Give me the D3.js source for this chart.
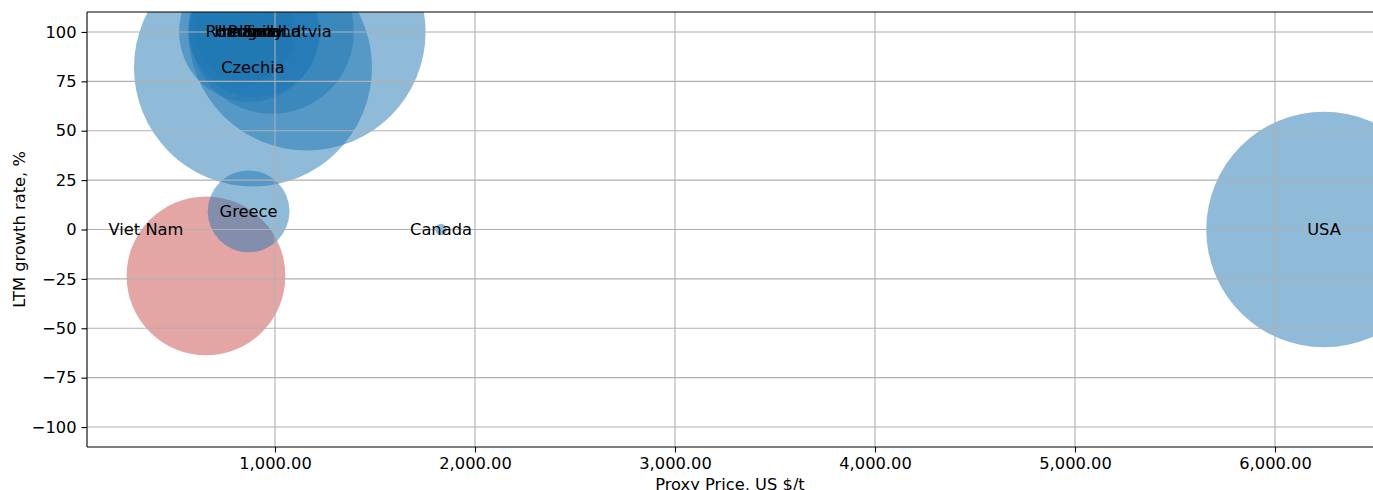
<!DOCTYPE html>
<html lang="en">
<head>
  <meta charset="UTF-8" />
  <title>Proxy price vs LTM growth</title>
  <style>
    body { margin: 0; background: white; }
    svg { display: block; font-family: "DejaVu Sans", sans-serif; }
  </style>
</head>
<body>
  <svg id="chart" width="1373" height="490"></svg>

  <script src="https://d3js.org/d3.v7.min.js"></script>
  <script>
    // data
    const countries = ["Czechia", "Latvia", "Finland", "Hungary", "Poland", "Romania", "Ireland", "Greece", "Viet Nam", "Canada", "USA"];
    const prices    = [890, 1160, 985, 870, 900, 830, 855, 868, 655, 1830, 6245];   // US $/t
    const growth    = [82, 100, 100, 100, 100, 100, 100, 9.2, -23.5, 0, 0];          // %
    const volumes   = [1420, 1410, 672, 490, 423, 281, 250, 168, 632, 3.2, 1390];    // bubble size
    const highlight = [false, false, false, false, false, false, false, false, true, false, false];
    // where the name is written (differs only for Viet Nam)
    const labelPrice  = [890, 1160, 985, 870, 900, 830, 855, 868, 355, 1830, 6245];
    const labelGrowth = [82, 100, 100, 100, 100, 100, 100, 9.2, 0, 0, 0];

    const xTicks = [1000, 2000, 3000, 4000, 5000, 6000];
    const yTicks = [-100, -75, -50, -25, 0, 25, 50, 75, 100];

    const svg = d3.select("#chart");
    const plot = { left: 87, right: 1373, top: 12, bottom: 447 };
    const fs = 16.3;

    const x = d3.scaleLinear().domain([60, 6490]).range([plot.left, plot.right]);
    const y = d3.scaleLinear().domain([-110.1, 110.1]).range([plot.bottom, plot.top]);
    const r = d3.scaleSqrt().domain([0, d3.max(volumes)]).range([0, 119]);

    const rows = countries.map((c, i) => ({
      name: c, price: prices[i], growth: growth[i], vol: volumes[i],
      hl: highlight[i], lx: labelPrice[i], ly: labelGrowth[i]
    }));

    svg.append("clipPath").attr("id", "plotclip")
      .append("rect")
      .attr("x", plot.left).attr("y", plot.top)
      .attr("width", plot.right - plot.left).attr("height", plot.bottom - plot.top);

    // bubbles (largest first)
    svg.append("g")
      .attr("clip-path", "url(#plotclip)")
      .selectAll("circle")
      .data(rows.slice().sort((a, b) => b.vol - a.vol))
      .enter()
      .append("circle")
      .attr("cx", d => x(d.price))
      .attr("cy", d => y(d.growth))
      .attr("r", d => r(d.vol))
      .attr("fill", d => d.hl ? "#c94b4b" : "#1f77b4")
      .attr("fill-opacity", 0.5);

    // grid sits above the bubbles, like matplotlib
    const grid = svg.append("g").attr("stroke", "#b0b0b0").attr("stroke-width", 1.1);
    grid.selectAll(".gx").data(xTicks).enter().append("line")
      .attr("x1", d => x(d)).attr("x2", d => x(d))
      .attr("y1", plot.top).attr("y2", plot.bottom);
    grid.selectAll(".gy").data(yTicks).enter().append("line")
      .attr("x1", plot.left).attr("x2", plot.right)
      .attr("y1", d => y(d)).attr("y2", d => y(d));

    // axes
    const xAxis = d3.axisBottom(x).tickValues(xTicks).tickFormat(d3.format(",.2f"))
      .tickSizeInner(5.5).tickSizeOuter(0).tickPadding(5);
    const yAxis = d3.axisLeft(y).tickValues(yTicks)
      .tickSizeInner(5.5).tickSizeOuter(0).tickPadding(5);

    const gx = svg.append("g").attr("transform", `translate(0,${plot.bottom})`).call(xAxis);
    const gy = svg.append("g").attr("transform", `translate(${plot.left},0)`).call(yAxis);
    [gx, gy].forEach(g => {
      g.selectAll("text").attr("font-size", fs).attr("fill", "black")
        .attr("font-family", "DejaVu Sans");
      g.selectAll("line").attr("stroke", "black").attr("stroke-width", 1.1);
      g.select(".domain").remove();
    });

    // spines
    const spine = svg.append("g").attr("stroke", "black").attr("stroke-width", 1.1);
    spine.append("line").attr("x1", plot.left).attr("x2", plot.left).attr("y1", plot.top).attr("y2", plot.bottom);
    spine.append("line").attr("x1", plot.left).attr("x2", plot.right).attr("y1", plot.bottom).attr("y2", plot.bottom);
    spine.append("line").attr("x1", plot.left).attr("x2", plot.right).attr("y1", plot.top).attr("y2", plot.top);

    // country names
    svg.append("g").selectAll("text")
      .data(rows)
      .enter()
      .append("text")
      .attr("x", d => x(d.lx))
      .attr("y", d => y(d.ly))
      .attr("text-anchor", "middle")
      .attr("dominant-baseline", "central")
      .attr("font-size", fs)
      .text(d => d.name);

    // axis titles
    svg.append("text")
      .attr("x", (plot.left + plot.right) / 2).attr("y", 490)
      .attr("text-anchor", "middle").attr("font-size", fs)
      .text("Proxy Price, US $/t");
    svg.append("text")
      .attr("transform", `translate(25,${(plot.top + plot.bottom) / 2}) rotate(-90)`)
      .attr("text-anchor", "middle").attr("font-size", fs)
      .text("LTM growth rate, %");
  </script>
</body>
</html>
